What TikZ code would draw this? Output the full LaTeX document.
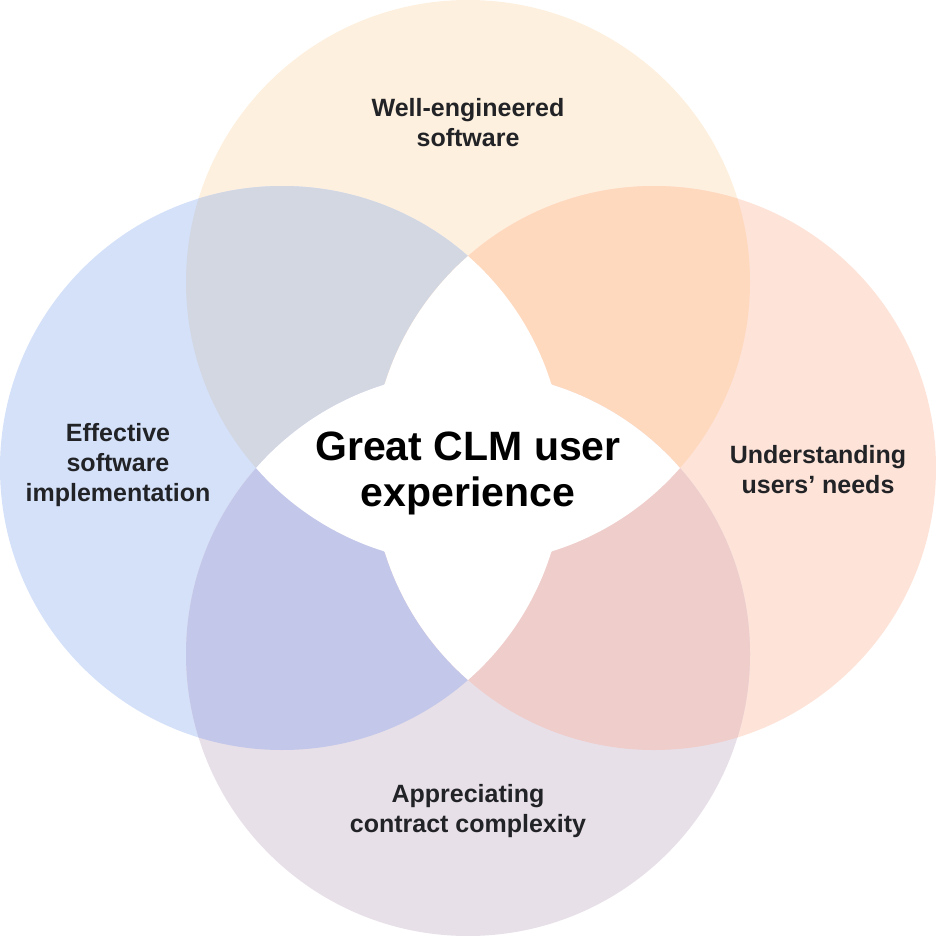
\documentclass[tikz,border=0pt]{standalone}
\usepackage{fontspec}
\setmainfont{Liberation Sans}
\definecolor{ctop}{HTML}{FEF0DE}
\definecolor{cleft}{HTML}{D4E1F9}
\definecolor{cright}{HTML}{FEE3D8}
\definecolor{cbot}{HTML}{E8E0E8}
\definecolor{ctl}{HTML}{D3D7E2}
\definecolor{ctr}{HTML}{FED9BE}
\definecolor{clb}{HTML}{C3C7E9}
\definecolor{crb}{HTML}{EECDCB}
\definecolor{txt}{HTML}{222326}
\begin{document}
\begin{tikzpicture}[x=1pt,y=-1pt,
  lbl/.style={font=\bfseries\fontsize{25}{30}\selectfont, text=txt, align=center, inner sep=0pt},
  ttl/.style={font=\bfseries\fontsize{41}{46}\selectfont, text=black, align=center, inner sep=0pt}]
\useasboundingbox (0,0) rectangle (936,936);
\coordinate (T) at (468,282);
\coordinate (L) at (282,468);
\coordinate (R) at (654,468);
\coordinate (B) at (468,654);
% single circles
\fill[ctop] (T) circle[radius=282pt];
\fill[cleft] (L) circle[radius=282pt];
\fill[cright] (R) circle[radius=282pt];
\fill[cbot] (B) circle[radius=282pt];
% pairwise overlaps
\begin{scope}\clip (T) circle[radius=282pt]; \fill[ctl] (L) circle[radius=282pt];\end{scope}
\begin{scope}\clip (T) circle[radius=282pt]; \fill[ctr] (R) circle[radius=282pt];\end{scope}
\begin{scope}\clip (B) circle[radius=282pt]; \fill[clb] (L) circle[radius=282pt];\end{scope}
\begin{scope}\clip (B) circle[radius=282pt]; \fill[crb] (R) circle[radius=282pt];\end{scope}
% triple overlaps (white centre)
\begin{scope}\clip (T) circle[radius=282pt]; \clip (L) circle[radius=282pt]; \fill[white] (R) circle[radius=282pt];\end{scope}
\begin{scope}\clip (T) circle[radius=282pt]; \clip (L) circle[radius=282pt]; \fill[white] (B) circle[radius=282pt];\end{scope}
\begin{scope}\clip (B) circle[radius=282pt]; \clip (R) circle[radius=282pt]; \fill[white] (T) circle[radius=282pt];\end{scope}
\begin{scope}\clip (B) circle[radius=282pt]; \clip (R) circle[radius=282pt]; \fill[white] (L) circle[radius=282pt];\end{scope}
% labels
\node[ttl] (title) at (468,473) {Great CLM user\\experience};
\node[lbl] (top) at (468,123) {Well-engineered\\software};
\node[lbl] (left) at (118,465) {Effective\\software\\implementation};
\node[lbl] (right) at (818,470) {Understanding\\users’ needs};
\node[lbl] (bottom) at (468,811) {Appreciating\\contract complexity};
\end{tikzpicture}
\end{document}
